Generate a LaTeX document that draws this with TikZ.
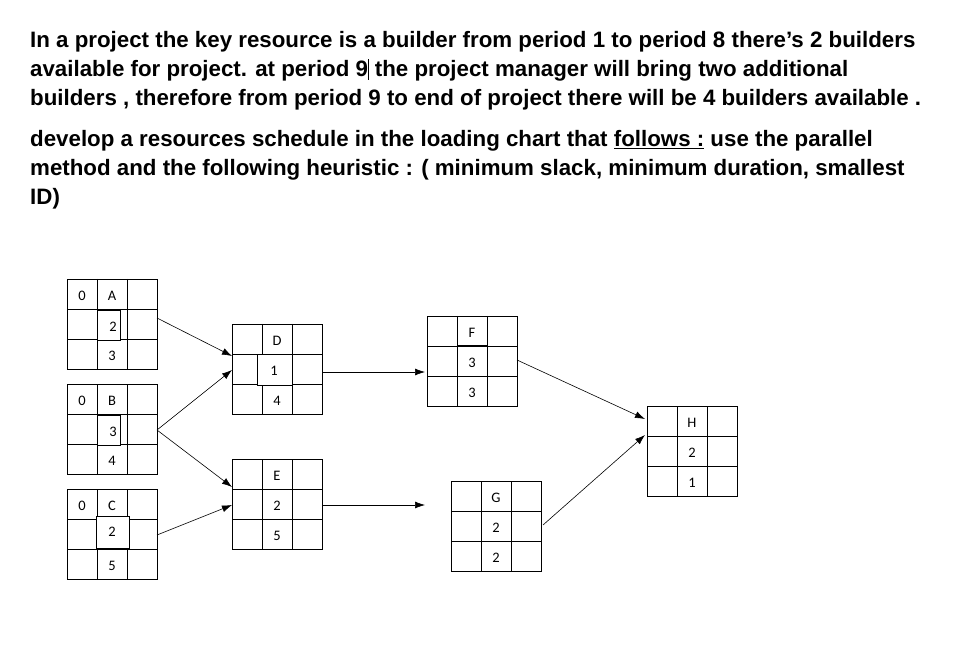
\documentclass[tikz,border=0pt]{standalone}
\usepackage{fontspec}
\usetikzlibrary{arrows.meta}
\setmainfont{Liberation Sans}
\newfontfamily\cellfont{Carlito}
\begin{document}
\begin{tikzpicture}[x=1pt,y=-1pt,
  txt/.style={anchor=base west,inner sep=0pt,font=\bfseries\fontsize{22.3}{25}\selectfont},
  cell/.style={font=\cellfont\fontsize{14.5}{16}\selectfont,inner sep=0pt},
  arr/.style={-{Latex[length=10pt,width=7pt]},line width=0.6pt}]
\useasboundingbox (0,0) rectangle (980,660);
\node[txt] (l1) at (30,48) {In a project the key resource is a builder from period 1 to period 8 there’s 2 builders};
\node[txt] (l2) at (30,77) {available for project. at period 9\rule[-3pt]{0.6pt}{21pt} the project manager will bring two additional};
\node[txt] (l3) at (30,106) {builders , therefore from period 9 to end of project there will be 4 builders available .};
\node[txt] (l4) at (30,147) {develop a resources schedule in the loading chart that \underline{follows :} use the parallel};
\node[txt] (l5) at (30,176) {method and the following heuristic : ( minimum slack, minimum duration, smallest};
\node[txt] (l6) at (30,205) {ID)};
\newcommand{\act}[7]{%
  \node[draw,minimum width=90pt,minimum height=90pt,inner sep=0pt,anchor=north west] (#1) at (#2,#3) {};
  \draw (#2+30,#3) -- (#2+30,#3+90) (#2+60,#3) -- (#2+60,#3+90)
        (#2,#3+30) -- (#2+90,#3+30) (#2,#3+60) -- (#2+90,#3+60);
  \node[cell] at (#2+15,#3+17) {#4};
  \node[cell] at (#2+45,#3+17) {#5};
  \node[cell] at (#2+45,#3+47) {#6};
  \node[cell] at (#2+45,#3+77) {#7};
}
\act{A}{67}{279}{0}{A}{}{3}
\draw[fill=white] (97,310) rectangle (120,340); \node[cell] at (113,327) {2};
\act{B}{67}{384}{0}{B}{}{4}
\draw[fill=white] (97,415) rectangle (120,445); \node[cell] at (113,432) {3};
\act{C}{67}{489}{0}{C}{}{5}
\draw[fill=white] (96,516) rectangle (129,548); \node[cell] at (112,532) {2};
\act{D}{232}{324}{}{D}{}{4}
\draw[fill=white] (257,354) rectangle (292,385); \node[cell] at (274,371) {1};
\act{E}{232}{459}{}{E}{2}{5}
\act{F}{427}{316}{}{F}{3}{3}
\draw[line width=1pt] (457,346) rectangle (487,376);
\act{G}{451}{481}{}{G}{2}{2}
\draw[line width=1pt] (451,511) -- (481,511) -- (481,541);
\act{H}{647}{406}{}{H}{2}{1}
\draw[line width=1pt] (647,436) -- (677,436) (677,466) -- (707,466);
\draw[arr] (157,318) -- (232,356);
\draw[arr] (157,430) -- (232,370);
\draw[arr] (157,430) -- (232,487);
\draw[arr] (157,535) -- (232,505);
\draw[arr] (322,372) -- (425,372);
\draw[arr] (322,505) -- (425,505);
\draw[arr] (517,360) -- (645,419);
\draw[arr] (543,525) -- (645,435);
\end{tikzpicture}
\end{document}
